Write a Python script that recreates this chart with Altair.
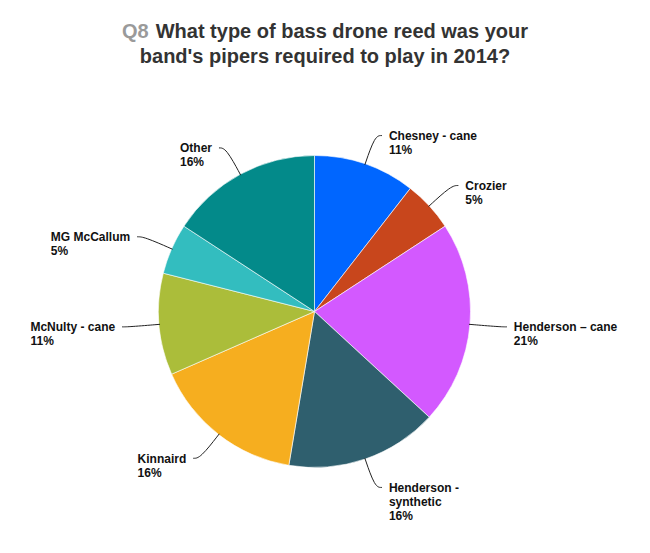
import math
import altair as alt
import pandas as pd

# ---------------- data ----------------
TITLE_PREFIX = "Q8"
TITLE_LINES = ["What type of bass drone reed was your",
               "band's pipers required to play in 2014?"]

categories = ["Chesney - cane", "Crozier", "Henderson \u2013 cane",
              "Henderson - synthetic", "Kinnaird", "McNulty - cane",
              "MG McCallum", "Other"]
responses = [2, 1, 4, 3, 3, 2, 1, 3]
slice_colors = ["#0066FF", "#C8461C", "#D359FF", "#2F5F6E",
                "#F6AE1F", "#ABBD3A", "#33BDBF", "#038A8A"]
# how each category name is wrapped in its data label
label_wrap = [["Chesney - cane"], ["Crozier"], ["Henderson \u2013 cane"],
              ["Henderson -", "synthetic"], ["Kinnaird"], ["McNulty - cane"],
              ["MG McCallum"], ["Other"]]

# ---------------- layout ----------------
W, H = 634, 537
CX, CY, R = 306.5, 303.5, 156
ELBOW_R = 186
HOOK = 7
GAP = 7
FONT = "Liberation Sans"
LABEL_SIZE = 12
TITLE_SIZE = 20

# Arial/Liberation Sans Bold advance widths (per 1000 em)
_BW = {" ": 278, "-": 333, "\u2013": 556, "%": 889, "'": 238, "?": 611}
_BW.update({d: 556 for d in "0123456789"})
_BW.update(dict(zip("ABCDEFGHIJKLMNOPQRSTUVWXYZ",
                    [722, 722, 722, 722, 667, 611, 778, 722, 278, 556, 722, 611, 833,
                     722, 778, 667, 778, 722, 667, 611, 722, 667, 944, 667, 667, 611])))
_BW.update(dict(zip("abcdefghijklmnopqrstuvwxyz",
                    [556, 611, 556, 611, 556, 333, 611, 611, 278, 278, 556, 278, 889,
                     611, 611, 611, 611, 389, 556, 333, 611, 556, 778, 556, 556, 500])))


def text_width(s, size):
    return sum(_BW.get(c, 600) for c in s) * size / 1000.0


total = sum(responses)
rows, leaders = [], []
cum = 0
for i, (cat, v, wrap) in enumerate(zip(categories, responses, label_wrap)):
    mid = (cum + v / 2) / total * 2 * math.pi
    cum += v
    dx, dy = math.sin(mid), -math.cos(mid)
    p0 = (CX + (R - 1) * dx, CY + (R - 1) * dy)
    p1 = (CX + ELBOW_R * dx, CY + ELBOW_R * dy)
    side = 1 if dx >= 0 else -1
    p2 = (p1[0] + side * HOOK, p1[1])
    pct = f"{round(v / total * 100)}%"
    lines = list(wrap) + [pct]
    if side > 0:
        lx = p2[0] + GAP
    else:
        lx = p2[0] - GAP - max(text_width(s, LABEL_SIZE) for s in lines)
    rows.append({"category": cat, "responses": v, "idx": i,
                 "lines": lines, "lx": lx, "ly": p2[1] + 4.5})
    for k, p in enumerate((p0, p1, p2)):
        leaders.append({"category": cat, "k": k, "px": p[0], "py": p[1]})

pie_df = pd.DataFrame(rows)
lead_df = pd.DataFrame(leaders)

xs = alt.Scale(domain=[0, W], nice=False, zero=False)
ys = alt.Scale(domain=[0, H], nice=False, zero=False, reverse=True)

pie = alt.Chart(pie_df).mark_arc(
    radius=R, x=CX, y=CY, stroke="white", strokeWidth=0.6
).encode(
    theta=alt.Theta("responses:Q", stack=True),
    color=alt.Color("category:N", scale=alt.Scale(domain=categories, range=slice_colors),
                    legend=None),
    order=alt.Order("idx:Q"),
)

lead = alt.Chart(lead_df).mark_line(
    color="#222222", strokeWidth=1, interpolate="basis"
).encode(
    x=alt.X("px:Q", scale=xs, axis=None),
    y=alt.Y("py:Q", scale=ys, axis=None),
    detail="category:N",
    order="k:Q",
)

labels = alt.Chart(pie_df).mark_text(
    align="left", baseline="alphabetic", font=FONT, fontSize=LABEL_SIZE,
    fontWeight="bold", color="#111111", lineHeight=14
).encode(
    x=alt.X("lx:Q", scale=xs, axis=None),
    y=alt.Y("ly:Q", scale=ys, axis=None),
    text="lines",
)

# title: grey question number followed by dark question text
w_pre = text_width(TITLE_PREFIX, TITLE_SIZE)
w_rest = text_width(TITLE_LINES[0], TITLE_SIZE)
t_gap = 7
t_left = W / 2 - (w_pre + t_gap + w_rest) / 2

t_pre = alt.Chart(pd.DataFrame({"t": [TITLE_PREFIX]})).mark_text(
    x=t_left, y=29.7, align="left", baseline="alphabetic", font=FONT,
    fontSize=TITLE_SIZE, fontWeight="bold", color="#9A9A9A"
).encode(text="t:N")
t_l1 = alt.Chart(pd.DataFrame({"t": [TITLE_LINES[0]]})).mark_text(
    x=t_left + w_pre + t_gap, y=29.7, align="left", baseline="alphabetic", font=FONT,
    fontSize=TITLE_SIZE, fontWeight="bold", color="#333333"
).encode(text="t:N")
t_l2 = alt.Chart(pd.DataFrame({"t": [TITLE_LINES[1]]})).mark_text(
    x=W / 2, y=54.7, align="center", baseline="alphabetic", font=FONT,
    fontSize=TITLE_SIZE, fontWeight="bold", color="#333333"
).encode(text="t:N")

chart = alt.layer(pie, lead, labels, t_pre, t_l1, t_l2).properties(
    width=W, height=H, autosize=alt.AutoSizeParams(type="none"), padding=0,
    background="white"
).configure_view(strokeWidth=0)

chart.save("out.html", embed_options={"renderer": "svg", "actions": False})
